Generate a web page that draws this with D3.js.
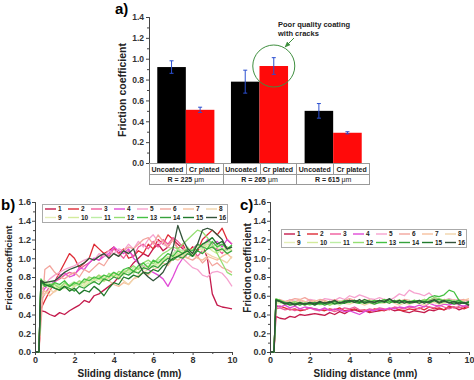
<!DOCTYPE html>
<html>
<head>
<meta charset="utf-8">
<script src="https://cdn.jsdelivr.net/npm/d3@7"></script>
<style>
body { margin: 0; background: #fff; }
svg { font-family: "Liberation Sans", Arial, sans-serif; font-weight: bold; }
.axis path, .axis line { stroke: #444; }
.axis text { fill: #333; font-weight: bold; }
</style>
</head>
<body>
<svg id="chart" width="474" height="380"></svg>
<script>
// ---- panel a: mean friction coefficient per specimen
const groups = ['225', '265', '615']
const coatings = ['Uncoated', 'Cr plated']
const uncoatedMean = [0.92, 0.78, 0.50]
const uncoatedErr = [0.06, 0.11, 0.07]
const platedMean = [0.51, 0.93, 0.29]
const platedErr = [0.025, 0.08, 0.01]
const yTicksA = [0, 0.2, 0.4, 0.6, 0.8, 1.0, 1.2, 1.4]

// ---- panels b and c: friction traces, 16 runs each
const runs = ['1','2','3','4','5','6','7','8','9','10','11','12','13','14','15','16']
const runColors = ['#c41a4c','#de2b35','#ef5b9c','#e04ad6','#f6a2cf','#f3a59d','#f6c09e','#f1d4ab',
  '#e5efb8','#d3eb9c','#bdeda5','#94de72','#45c143','#36a23c','#217a2c','#33533a']
const dist = [0.05,0.2,0.3,0.5,0.75,1,1.25,1.5,1.75,2,2.25,2.5,2.75,3,3.25,3.5,3.75,4,4.25,4.5,4.75,
  5,5.25,5.5,5.75,6,6.25,6.5,6.75,7,7.25,7.5,7.75,8,8.25,8.5,8.75,9,9.25,9.5,9.75,10]
const xTicks = [0, 2, 4, 6, 8, 10]
const yTicks = [0, 0.2, 0.4, 0.6, 0.8, 1.0, 1.2, 1.4, 1.6]

const frictionB = [
  [0,0,0.44, 0.43,0.40,0.38,0.42,0.40,0.44,0.47, 0.50,0.55,0.53,0.60,0.62,0.66,0.70, 0.74,0.80,0.85,0.88,0.95,1.00,1.05, 1.02,1.10,1.15,1.08,1.12,1.20,1.15, 1.10,1.05,1.12,1.08,1.15,1.00,0.62, 0.50,0.48,0.47,0.46],
  [0,0,0.46, 0.55,0.65,0.75,0.85,0.95,1.05,1.00, 0.90,0.95,1.00,1.15,1.10,1.05,1.08, 1.12,1.05,1.10,1.00,1.02,1.08,1.05, 1.15,1.10,1.20,1.15,1.25,1.20,1.10, 1.15,1.05,1.12,1.08,1.20,1.25,1.30, 1.25,1.32,1.20,1.15],
  [0,0,0.55, 0.62,0.70,0.75,0.78,0.82,0.85,0.83, 0.88,0.92,0.95,1.00,0.98,1.05,1.02, 1.10,1.05,1.00,1.08,1.02,1.12,1.15, 1.10,1.18,1.12,1.20,1.15,1.22,1.18, 1.12,1.05,1.10,1.02,1.08,1.15,1.12, 1.10,1.05,1.12,1.08],
  [0,0,0.60, 0.68,0.72,0.75,0.82,0.84,0.80,0.82, 0.90,0.88,0.95,1.00,0.98,1.02,1.05, 1.12,1.08,1.05,1.10,1.00,0.95,0.92, 0.88,0.85,0.82,0.78,0.70,0.80,0.92, 1.00,1.05,1.10,1.15,1.12,1.20,1.15, 1.18,1.12,1.20,1.15],
  [0,0,0.65, 0.72,0.78,0.82,0.85,0.88,0.90,0.92, 0.95,0.98,1.00,0.98,1.05,1.02,1.08, 1.05,1.10,1.08,1.15,1.10,1.18,1.12, 1.20,1.25,1.18,1.15,1.12,1.10,1.05, 1.00,0.95,0.90,0.88,0.82,0.80,0.85, 0.86,0.84,0.78,0.70],
  [0,0,0.30, 0.88,0.92,0.85,0.80,0.78,0.82,0.85, 0.80,0.88,0.85,0.90,0.95,0.92,1.00, 1.05,1.02,1.08,1.12,1.10,1.15,1.20, 1.22,1.15,1.25,1.18,1.12,1.20,1.10, 1.05,1.00,0.98,1.02,0.95,1.00,0.92, 0.95,0.90,0.88,0.85],
  [0,0,0.62, 0.65,0.60,0.65,0.70,0.68,0.72,0.70, 0.75,0.72,0.78,0.75,0.80,0.78,0.76, 0.72,0.70,0.74,0.72,0.78,0.80,0.85, 0.82,0.88,0.90,0.95,0.92,1.00,0.98, 1.02,1.00,1.05,1.00,0.98,1.02,1.00, 0.98,1.02,1.05,1.00],
  [0,0,0.58, 0.62,0.66,0.64,0.68,0.72,0.70,0.74, 0.72,0.76,0.80,0.78,0.82,0.80,0.78, 0.84,0.80,0.76,0.72,0.78,0.82,0.85, 0.88,0.92,0.95,0.98,1.00,1.05,1.02, 1.08,1.05,1.10,1.12,1.08,1.05,1.02, 1.00,0.98,0.95,1.02],
  [0,0,0.70, 0.72,0.68,0.70,0.66,0.68,0.72,0.70, 0.74,0.72,0.76,0.78,0.75,0.80,0.82, 0.80,0.84,0.82,0.86,0.88,0.85,0.90, 0.92,0.95,0.92,0.98,1.00,1.02,1.05, 1.08,1.05,1.10,1.12,1.08,1.15,1.10, 1.12,1.08,1.05,1.10],
  [0,0,0.72, 0.70,0.74,0.68,0.72,0.70,0.66,0.70, 0.72,0.70,0.74,0.76,0.78,0.75,0.80, 0.82,0.80,0.85,0.88,0.84,0.90,0.88, 0.92,0.90,0.95,0.98,1.02,1.00,1.05, 1.02,1.08,1.05,1.10,1.15,1.12,1.08, 1.05,1.10,1.12,1.08],
  [0,0,0.74, 0.76,0.72,0.74,0.70,0.68,0.72,0.75, 0.70,0.76,0.78,0.74,0.80,0.78,0.82, 0.85,0.82,0.88,0.84,0.90,0.88,0.92, 0.95,0.90,0.98,1.00,0.96,1.05,1.10, 1.08,1.12,1.05,1.15,1.10,1.18,1.12, 1.15,1.10,1.08,1.12],
  [0,0,0.76, 0.74,0.70,0.72,0.68,0.74,0.70,0.72, 0.76,0.74,0.80,0.78,0.82,0.76,0.84, 0.80,0.86,0.84,0.88,0.92,0.88,0.95, 0.98,0.94,1.00,1.05,1.08,1.12,1.10, 1.15,1.20,1.25,1.30,1.28,1.22,1.15, 1.05,0.95,0.85,0.82],
  [0,0,0.78, 0.72,0.70,0.74,0.72,0.76,0.70,0.74, 0.72,0.78,0.76,0.80,0.78,0.82,0.80, 0.85,0.82,0.88,0.90,0.86,0.92,0.95, 0.90,0.98,0.95,1.00,1.05,1.02,1.08, 1.05,1.10,1.08,1.15,1.12,1.10,1.18, 1.12,1.15,1.10,1.14],
  [0,0,0.75, 0.70,0.72,0.68,0.66,0.70,0.68,0.65, 0.70,0.68,0.72,0.75,0.72,0.78,0.76, 0.80,0.78,0.84,0.82,0.86,0.84,0.90, 0.88,0.92,0.90,0.96,1.00,0.98,1.02, 1.00,1.05,1.02,1.08,1.05,1.10,1.12, 1.08,1.10,1.05,1.08],
  [0,0,0.76, 0.72,0.70,0.68,0.66,0.70,0.65,0.68, 0.62,0.66,0.64,0.70,0.66,0.60,0.68, 0.74,0.72,0.80,0.78,0.82,0.80,0.85, 0.84,0.88,0.86,0.92,0.95,1.00,1.02, 1.05,1.08,1.02,1.10,1.15,1.18,1.22, 1.15,1.18,1.10,1.12],
  [0,0,0.76, 0.74,0.75,0.76,0.80,0.85,0.88,0.90, 0.92,0.95,1.00,0.98,1.02,1.05,1.00, 1.05,1.02,1.08,1.05,1.10,0.95,0.85, 0.80,0.76,0.80,0.85,0.95,1.10,1.35, 1.20,1.10,1.05,1.15,1.30,1.32,1.30, 1.25,1.20,1.10,1.12]
]

const frictionC = [
  [0,0,0.38, 0.36,0.35,0.38,0.37,0.40,0.39,0.40, 0.41,0.40,0.39,0.42,0.40,0.43,0.41, 0.44,0.45,0.43,0.44,0.42,0.43,0.44, 0.45,0.46,0.44,0.45,0.43,0.42,0.44, 0.43,0.42,0.45,0.44,0.46,0.45,0.47, 0.48,0.45,0.47,0.50],
  [0,0,0.48, 0.49,0.47,0.45,0.46,0.44,0.45,0.47, 0.46,0.45,0.44,0.46,0.45,0.47,0.44, 0.45,0.46,0.44,0.45,0.43,0.46,0.45, 0.44,0.46,0.47,0.45,0.44,0.46,0.45, 0.47,0.45,0.48,0.46,0.47,0.45,0.49, 0.47,0.48,0.46,0.48],
  [0,0,0.46, 0.47,0.45,0.46,0.44,0.46,0.45,0.47, 0.45,0.44,0.46,0.45,0.43,0.45,0.47, 0.46,0.48,0.45,0.44,0.46,0.45,0.47, 0.46,0.45,0.48,0.47,0.46,0.48,0.47, 0.46,0.49,0.48,0.47,0.50,0.48,0.46, 0.48,0.47,0.49,0.48],
  [0,0,0.50, 0.48,0.50,0.47,0.49,0.46,0.48,0.47, 0.46,0.45,0.47,0.44,0.46,0.45,0.43, 0.44,0.42,0.40,0.43,0.45,0.44,0.46, 0.45,0.47,0.46,0.48,0.47,0.49,0.48, 0.50,0.48,0.52,0.50,0.49,0.51,0.50, 0.52,0.50,0.49,0.51],
  [0,0,0.54, 0.55,0.53,0.56,0.54,0.55,0.53,0.56, 0.55,0.54,0.57,0.56,0.55,0.58,0.56, 0.60,0.58,0.61,0.59,0.57,0.56,0.58, 0.56,0.55,0.58,0.62,0.60,0.66,0.63, 0.62,0.60,0.63,0.58,0.56,0.55,0.57, 0.55,0.56,0.54,0.55],
  [0,0,0.55, 0.56,0.54,0.55,0.57,0.56,0.58,0.55, 0.54,0.56,0.55,0.53,0.56,0.54,0.55, 0.57,0.55,0.54,0.56,0.53,0.55,0.54, 0.56,0.55,0.53,0.54,0.56,0.55,0.53, 0.54,0.56,0.55,0.57,0.54,0.56,0.55, 0.53,0.55,0.56,0.54],
  [0,0,0.53, 0.54,0.52,0.55,0.53,0.56,0.54,0.53, 0.55,0.52,0.54,0.53,0.55,0.52,0.54, 0.53,0.55,0.52,0.54,0.56,0.53,0.55, 0.54,0.52,0.55,0.53,0.54,0.52,0.55, 0.54,0.53,0.56,0.55,0.53,0.55,0.54, 0.56,0.53,0.55,0.57],
  [0,0,0.52, 0.53,0.51,0.53,0.52,0.54,0.52,0.51, 0.53,0.55,0.52,0.51,0.53,0.54,0.52, 0.51,0.53,0.52,0.50,0.52,0.51,0.53, 0.52,0.54,0.52,0.50,0.52,0.51,0.53, 0.52,0.50,0.52,0.53,0.51,0.52,0.54, 0.52,0.51,0.53,0.52],
  [0,0,0.54, 0.52,0.53,0.51,0.52,0.50,0.52,0.51, 0.52,0.50,0.51,0.53,0.52,0.54,0.52, 0.53,0.55,0.53,0.52,0.54,0.53,0.52, 0.54,0.53,0.55,0.54,0.52,0.53,0.54, 0.52,0.54,0.53,0.55,0.54,0.52,0.53, 0.54,0.52,0.53,0.52],
  [0,0,0.56, 0.54,0.52,0.53,0.51,0.52,0.50,0.52, 0.51,0.53,0.52,0.50,0.52,0.53,0.55, 0.54,0.53,0.55,0.52,0.54,0.53,0.55, 0.53,0.55,0.54,0.56,0.53,0.55,0.54, 0.53,0.55,0.54,0.56,0.55,0.53,0.54, 0.52,0.54,0.53,0.51],
  [0,0,0.55, 0.53,0.51,0.52,0.50,0.51,0.53,0.52, 0.50,0.52,0.51,0.53,0.52,0.50,0.53, 0.55,0.54,0.52,0.53,0.55,0.54,0.52, 0.53,0.55,0.54,0.52,0.53,0.54,0.55, 0.54,0.52,0.55,0.54,0.56,0.55,0.53, 0.55,0.54,0.52,0.53],
  [0,0,0.57, 0.55,0.53,0.52,0.54,0.51,0.52,0.50, 0.52,0.51,0.53,0.50,0.52,0.54,0.53, 0.55,0.53,0.54,0.52,0.55,0.53,0.54, 0.56,0.54,0.53,0.55,0.54,0.52,0.55, 0.54,0.56,0.55,0.58,0.57,0.55,0.56, 0.54,0.55,0.53,0.52],
  [0,0,0.56, 0.55,0.52,0.53,0.51,0.52,0.50,0.53, 0.52,0.51,0.53,0.52,0.54,0.52,0.55, 0.53,0.55,0.54,0.52,0.53,0.55,0.54, 0.56,0.54,0.53,0.55,0.54,0.53,0.55, 0.54,0.53,0.58,0.60,0.59,0.61,0.66, 0.64,0.55,0.52,0.50],
  [0,0,0.55, 0.54,0.53,0.51,0.52,0.50,0.52,0.51, 0.53,0.52,0.50,0.52,0.54,0.52,0.53, 0.55,0.53,0.52,0.54,0.53,0.51,0.53, 0.54,0.52,0.55,0.53,0.54,0.52,0.53, 0.55,0.54,0.52,0.55,0.56,0.54,0.55, 0.53,0.55,0.52,0.54],
  [0,0,0.56, 0.54,0.52,0.50,0.51,0.53,0.51,0.52, 0.50,0.53,0.52,0.54,0.51,0.53,0.52, 0.54,0.55,0.53,0.56,0.54,0.53,0.55, 0.53,0.56,0.54,0.52,0.55,0.53,0.54, 0.52,0.54,0.53,0.55,0.52,0.54,0.53, 0.51,0.53,0.52,0.53],
  [0,0,0.55, 0.54,0.51,0.53,0.50,0.52,0.51,0.53, 0.51,0.54,0.52,0.53,0.55,0.52,0.54, 0.55,0.53,0.56,0.52,0.54,0.53,0.55, 0.54,0.57,0.53,0.55,0.52,0.54,0.53, 0.55,0.52,0.54,0.56,0.53,0.55,0.52, 0.54,0.51,0.53,0.50]
]

const svg = d3.select('#chart')
const fmt = d3.format('.1f')

// ================= panel a =================
const ax0 = d3.scaleBand().domain(groups).range([149, 370])
const ax1 = d3.scaleBand().domain(coatings).range([0, ax0.bandwidth()]).paddingOuter(0.29)
const ay = d3.scaleLinear().domain([0, 1.4]).range([163, 17])

svg.append('text').attr('x', 115).attr('y', 14).attr('font-size', 15).text('a)')

svg.append('g').attr('class', 'axis').attr('transform', 'translate(149,0)')
  .call(d3.axisLeft(ay).tickValues(d3.range(0.1, 1.4, 0.2)).tickSize(2).tickFormat(''))
svg.append('g').attr('class', 'axis').attr('transform', 'translate(149,0)')
  .call(d3.axisLeft(ay).tickValues(yTicksA).tickSize(3).tickPadding(2).tickFormat(fmt))
  .call(g => g.selectAll('text').attr('font-size', 8.5))

svg.append('text')
  .attr('transform', 'translate(122,90) rotate(-90)')
  .attr('text-anchor', 'middle').attr('dominant-baseline', 'central')
  .attr('font-size', 10.5).attr('fill', '#222')
  .text('Friction coefficient')

const barRows = groups.map((g, i) => [
  {g, c: 'Uncoated', v: uncoatedMean[i], e: uncoatedErr[i], fill: '#000'},
  {g, c: 'Cr plated', v: platedMean[i], e: platedErr[i], fill: '#ff0a0a'}
]).flat()

svg.append('g').selectAll('rect')
  .data(barRows)
  .enter().append('rect')
    .attr('x', d => ax0(d.g) + ax1(d.c))
    .attr('width', ax1.bandwidth())
    .attr('y', d => ay(d.v))
    .attr('height', d => ay(0) - ay(d.v))
    .attr('fill', d => d.fill)

const err = svg.append('g').attr('stroke', '#2b4fd0').attr('stroke-width', 1)
  .selectAll('g').data(barRows).enter().append('g')
  .attr('transform', d => `translate(${ax0(d.g) + ax1(d.c) + ax1.bandwidth() / 2},0)`)
err.append('line').attr('y1', d => ay(d.v - d.e)).attr('y2', d => ay(d.v + d.e))
err.append('line').attr('x1', -2).attr('x2', 2).attr('y1', d => ay(d.v + d.e)).attr('y2', d => ay(d.v + d.e))
err.append('line').attr('x1', -2).attr('x2', 2).attr('y1', d => ay(d.v - d.e)).attr('y2', d => ay(d.v - d.e))

// annotation on the cracked coating
const cx = ax0(groups[1]) + ax1('Cr plated') + ax1.bandwidth() / 2
svg.append('circle').attr('cx', cx).attr('cy', ay(platedMean[1]))
  .attr('r', 21).attr('fill', 'none').attr('stroke', '#3f8f3f').attr('stroke-width', 1)
svg.append('defs').append('marker').attr('id', 'arr')
  .attr('viewBox', '0 0 10 10').attr('refX', 9).attr('refY', 5)
  .attr('markerWidth', 6).attr('markerHeight', 6).attr('orient', 'auto')
  .append('path').attr('d', 'M0,1L10,5L0,9z').attr('fill', '#3f8f3f')
svg.append('line').attr('x1', 294).attr('y1', 38).attr('x2', 285).attr('y2', 47)
  .attr('stroke', '#3f8f3f').attr('stroke-width', 1).attr('marker-end', 'url(#arr)')
svg.append('text').attr('x', 278).attr('y', 27).attr('font-size', 7.5).attr('fill', '#222').text('Poor quality coating')
svg.append('text').attr('x', 278).attr('y', 36).attr('font-size', 7.5).attr('fill', '#222').text('with cracks')

// category table under the bars
const tbl = svg.append('g').attr('stroke', '#999').attr('stroke-width', 1)
tbl.append('rect').attr('x', 149.5).attr('y', 163.5).attr('width', 220).attr('height', 21).attr('fill', 'none')
tbl.append('line').attr('x1', 149.5).attr('x2', 369.5).attr('y1', 174.5).attr('y2', 174.5)
groups.forEach((g, i) => {
  const x = Math.round(ax0(g)) + 0.5
  const mid = Math.round(ax0(g) + ax0.bandwidth() / 2) + 0.5
  tbl.append('line').attr('x1', mid).attr('x2', mid).attr('y1', 163.5).attr('y2', 174.5)
  if (i > 0) tbl.append('line').attr('x1', x).attr('x2', x).attr('y1', 163.5).attr('y2', 184.5)
})
const cellText = svg.append('g').attr('font-size', 7).attr('fill', '#222').attr('text-anchor', 'middle')
groups.forEach(g => {
  coatings.forEach((c, j) => {
    cellText.append('text')
      .attr('x', ax0(g) + ax0.bandwidth() / 4 * (1 + 2 * j)).attr('y', 171.5).text(c)
  })
  const t = cellText.append('text').attr('x', ax0(g) + ax0.bandwidth() / 2).attr('y', 182)
  t.append('tspan').text(`R = ${g} `)
  t.append('tspan').attr('font-weight', 'normal').text('\u03bcm')
})

// ================= panels b and c =================
function tracePanel(opts) {
  const x = d3.scaleLinear().domain([0, 10]).range([opts.left, opts.right])
  const y = d3.scaleLinear().domain([0, 1.6]).range([352, 202])

  svg.append('text').attr('x', opts.tagX).attr('y', 210).attr('font-size', 15).text(opts.tag)

  svg.append('g').attr('class', 'axis').attr('transform', 'translate(0,352)')
    .call(d3.axisBottom(x).tickValues([1, 3, 5, 7, 9]).tickSize(2).tickFormat(''))
  svg.append('g').attr('class', 'axis').attr('transform', 'translate(0,352)')
    .call(d3.axisBottom(x).tickValues(xTicks).tickSize(3).tickPadding(2).tickFormat(d3.format('d')))
    .call(g => g.selectAll('text').attr('font-size', 9))
  svg.append('g').attr('class', 'axis').attr('transform', `translate(${opts.left},0)`)
    .call(d3.axisLeft(y).tickValues(d3.range(0.1, 1.6, 0.2)).tickSize(2).tickFormat(''))
  svg.append('g').attr('class', 'axis').attr('transform', `translate(${opts.left},0)`)
    .call(d3.axisLeft(y).tickValues(yTicks).tickSize(3).tickPadding(1).tickFormat(fmt))
    .call(g => g.selectAll('text').attr('font-size', 9))

  svg.append('text')
    .attr('transform', `translate(${opts.titleX},268) rotate(-90)`)
    .attr('text-anchor', 'middle').attr('dominant-baseline', 'central')
    .attr('font-size', opts.titleSize).attr('fill', '#222')
    .text('Friction coefficient')
  svg.append('text').attr('x', (opts.left + opts.right) / 2 - 4).attr('y', 377)
    .attr('text-anchor', 'middle').attr('font-size', 10).attr('fill', '#222')
    .text('Sliding distance (mm)')

  const line = d3.line().x((d, i) => x(dist[i])).y(d => y(d))
  svg.append('g').attr('fill', 'none').attr('stroke-width', 1.3).attr('stroke-linejoin', 'round')
    .selectAll('path').data(opts.data).enter().append('path')
    .attr('stroke', (d, i) => runColors[i])
    .attr('d', line)

  // legend, two rows of eight
  const lg = svg.append('g').attr('transform', `translate(${opts.legX},${opts.legY})`)
  lg.append('rect').attr('x', 0.5).attr('y', 0.5).attr('width', 185).attr('height', 18)
    .attr('fill', '#fff').attr('stroke', '#aaa')
  const item = lg.selectAll('g.item').data(runs).enter().append('g')
    .attr('transform', (d, i) => `translate(${3 + (i % 8) * 23}, ${i < 8 ? 5 : 13.5})`)
  item.append('line').attr('x1', 0).attr('x2', 11).attr('stroke', (d, i) => runColors[i]).attr('stroke-width', 1.4)
  item.append('text').attr('x', 13).attr('dy', '0.35em').attr('font-size', 6.5).attr('fill', '#222').text(d => d)
}

tracePanel({left: 35, right: 232, data: frictionB, tag: 'b)', tagX: 1, titleX: 8, titleSize: 9.5, legX: 42, legY: 204})
tracePanel({left: 270, right: 469, data: frictionC, tag: 'c)', tagX: 240, titleX: 247, titleSize: 10, legX: 281, legY: 229})
</script>
</body>
</html>
